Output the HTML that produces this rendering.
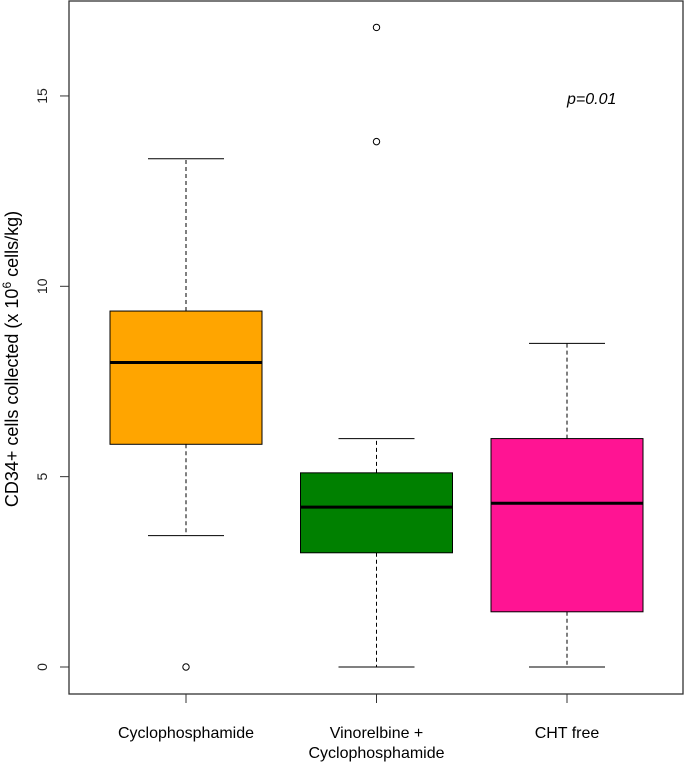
<!DOCTYPE html>
<html><head><meta charset="utf-8"><style>
body{margin:0;background:#fff;}
svg{display:block;font-family:"Liberation Sans",Arial,sans-serif;}
</style></head><body>
<svg id="chart" width="685" height="770">
<rect x="69" y="1" width="614" height="693" fill="none" stroke="#333" stroke-width="1.3"/>
<text x="567" y="104" font-size="16" font-style="italic">p=0.01</text>
<text transform="translate(18,359) rotate(-90)" text-anchor="middle" font-size="18">CD34+ cells collected (x 10<tspan baseline-shift="super" font-size="12">6</tspan> cells/kg)</text>
</svg>
<script>
const categories=["Cyclophosphamide","Vinorelbine +|Cyclophosphamide","CHT free"];
const colors=["#FFA500","#008000","#FF1493"];
const whiskerLow=[3.45,0,0];
const q1=[5.85,3.0,1.45];
const medians=[8.0,4.2,4.3];
const q3=[9.35,5.1,6.0];
const whiskerHigh=[13.35,6.0,8.5];
const outliers=[[0],[13.8,16.8],[]];
const yTicks=[0,5,10,15];

const NS="http://www.w3.org/2000/svg";
const svg=document.getElementById('chart');
function y(v){return 667-v*38.07;}
function x(i){return 186+i*190.5;}
function mk(tag,attrs,parent){const e=document.createElementNS(NS,tag);for(const k in attrs)e.setAttribute(k,attrs[k]);(parent||svg).appendChild(e);return e;}

yTicks.forEach(t=>{
  const l=mk('line',{x1:60,x2:69,y1:y(t),y2:y(t),stroke:'#333'});
  
  
  const tx=mk('text',{transform:`translate(47,${y(t)}) rotate(-90)`,'text-anchor':'middle','font-size':14,fill:'#222'});
  tx.textContent=t;
  
  
});

categories.forEach((c,i)=>{
  const cx=x(i),hw=76;
  const g=mk('g',{});
  
  
  mk('line',{x1:cx,x2:cx,y1:y(q3[i]),y2:y(whiskerHigh[i]),stroke:'#000','stroke-dasharray':'4,3'},g);
  mk('line',{x1:cx,x2:cx,y1:y(q1[i]),y2:y(whiskerLow[i]),stroke:'#000','stroke-dasharray':'4,3'},g);
  mk('line',{x1:cx-38,x2:cx+38,y1:y(whiskerHigh[i]),y2:y(whiskerHigh[i]),stroke:'#000'},g);
  mk('line',{x1:cx-38,x2:cx+38,y1:y(whiskerLow[i]),y2:y(whiskerLow[i]),stroke:'#000'},g);
  mk('rect',{x:cx-hw,y:y(q3[i]),width:hw*2,height:y(q1[i])-y(q3[i]),fill:colors[i],stroke:'#000','stroke-width':1},g);
  mk('line',{x1:cx-hw,x2:cx+hw,y1:y(medians[i]),y2:y(medians[i]),stroke:'#000','stroke-width':3},g);
  outliers[i].forEach(o=>{
    const p=mk('circle',{cx:cx,cy:y(o),r:3.2,fill:'none',stroke:'#000'},g);
    
    
  });
  const tk=mk('line',{x1:cx,x2:cx,y1:694,y2:703,stroke:'#333'});
  
  
  const lines=c.split('|');
  lines.forEach((s,j)=>{
    const t=mk('text',{x:cx,y:738+j*20,'text-anchor':'middle','font-size':16});
    t.textContent=s;
    
    
  });
});
</script>
</body></html>
